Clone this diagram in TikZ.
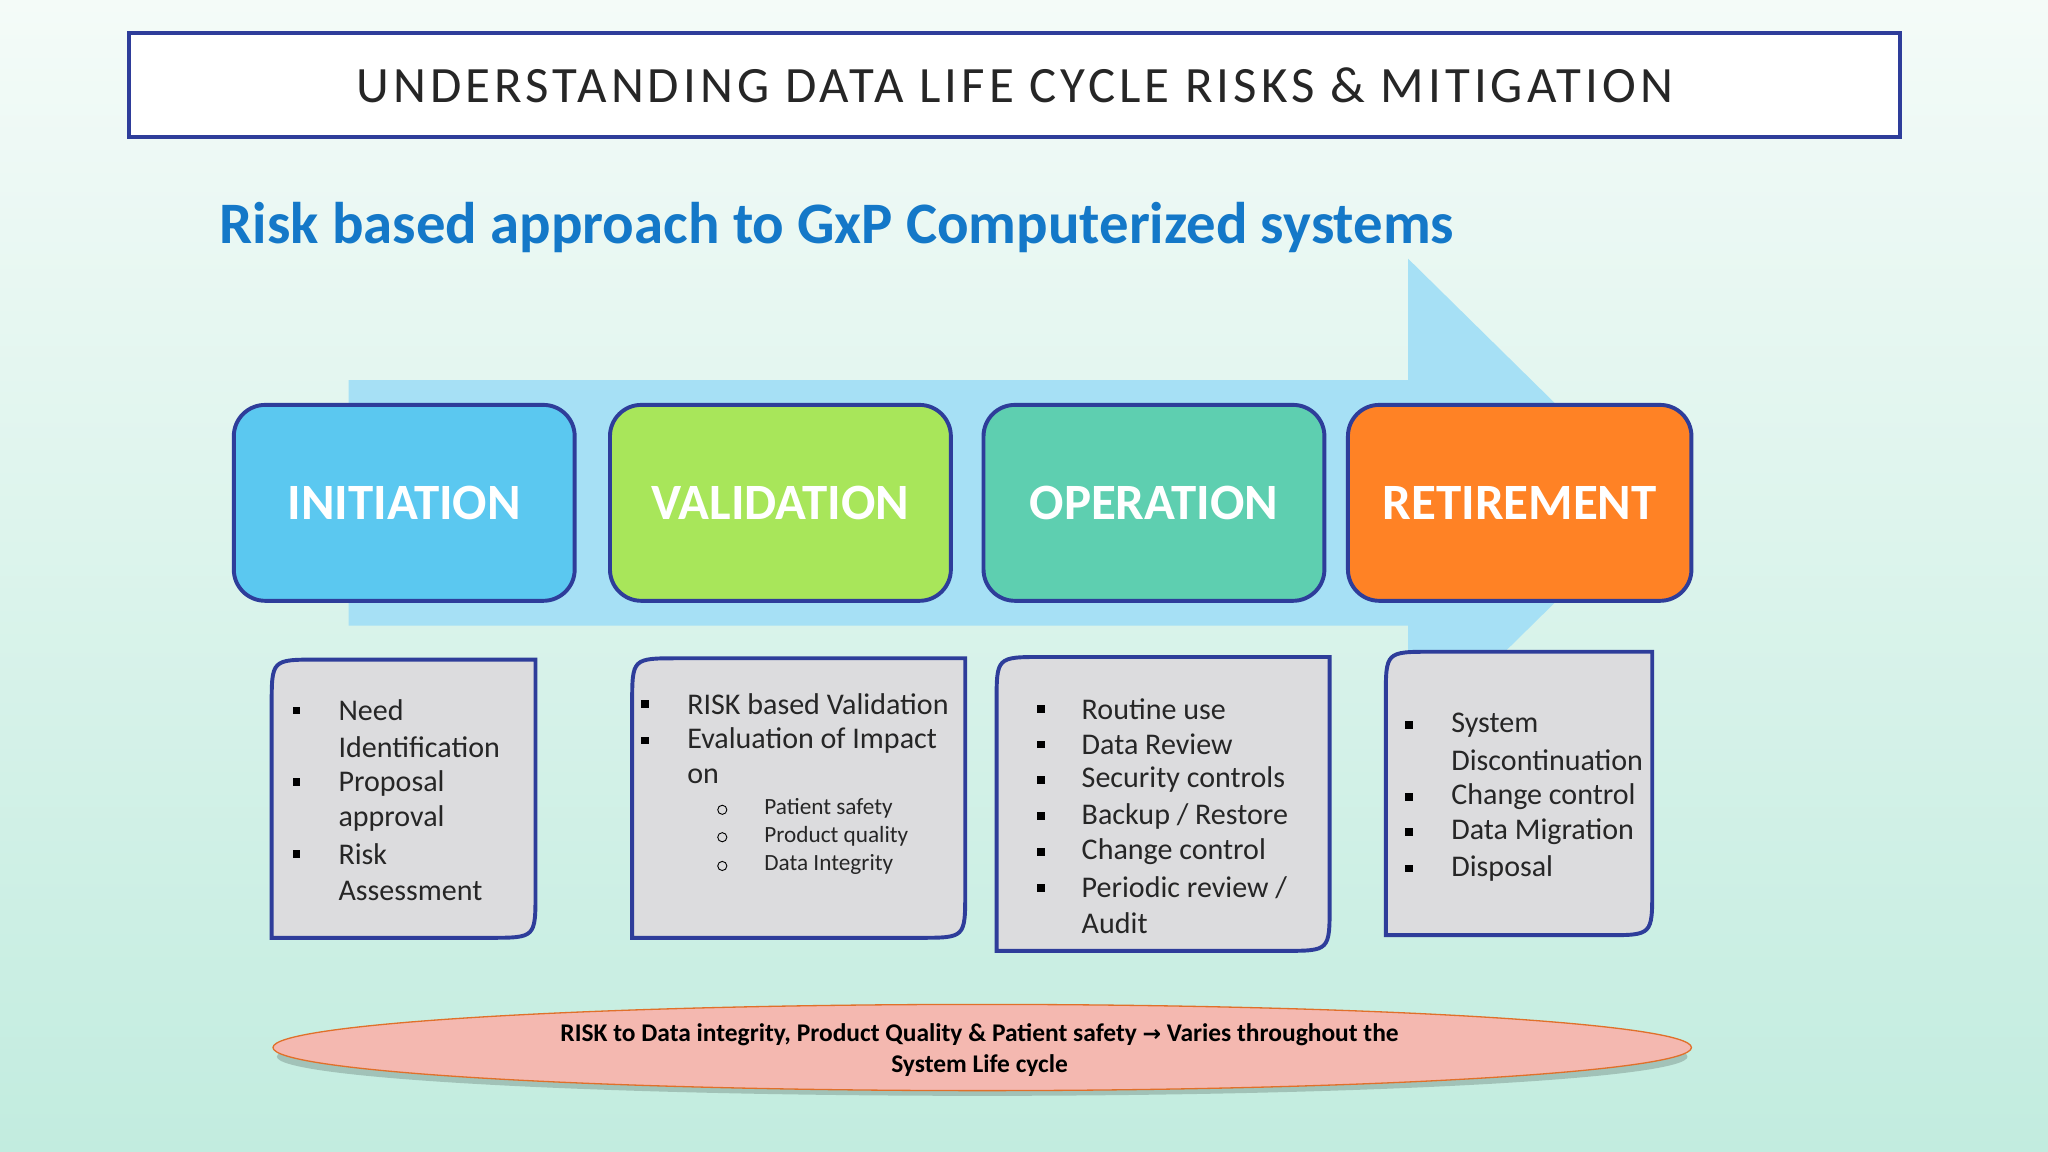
\documentclass[tikz,border=0pt]{standalone}
\usepackage{fontspec}
\setmainfont{Carlito}
\newfontfamily\titlefont[LetterSpace=8]{Carlito}
\newfontfamily\dv{DejaVu Sans}
\begin{document}
\begin{tikzpicture}[x=1pt,y=-1pt,
  stage/.style={draw=bdr,line width=3pt,rounded corners=24pt,text=white,font=\fontsize{39}{42}\selectfont\bfseries},
  detail/.style={draw=bdr,line width=3pt,fill=boxgray},
  txt/.style={anchor=west,inner sep=0pt,font=\fontsize{23}{26}\selectfont,text=black!85},
  stxt/.style={anchor=west,inner sep=0pt,font=\fontsize{17.8}{20}\selectfont,text=black!85},
  bul/.style={fill=black,minimum size=6pt,inner sep=0pt},
  cir/.style={draw=black,line width=0.7pt,circle,minimum size=7pt,inner sep=0pt}]
\definecolor{bdr}{HTML}{2E3D9A}
\definecolor{boxgray}{HTML}{DCDCDE}
\definecolor{arr}{HTML}{A6E0F5}
\definecolor{bgtop}{HTML}{F4FBF8}
\definecolor{bgmid}{HTML}{D2F0EA}
\definecolor{bgbot}{HTML}{C2ECDF}
\useasboundingbox (0,0) rectangle (1568,882);
\shade[top color=bgtop, middle color=bgmid, bottom color=bgbot] (0,0) rectangle (1568,882);
% title
\node[draw=bdr,line width=3pt,fill=white,minimum width=1356pt,minimum height=80pt,font=\titlefont\fontsize{39}{42}\selectfont,text=black!85] (title) at (777,65) {UNDERSTANDING DATA LIFE CYCLE RISKS \& MITIGATION};
\node[anchor=west,inner sep=0pt,text={rgb,255:red,20;green,120;blue,200},font=\fontsize{45}{48}\selectfont\bfseries] (sub) at (168,174) {Risk based approach to GxP Computerized systems};
% arrow
\fill[arr] (267,291) -- (1078,291) -- (1078,198) -- (1268,385) -- (1078,572) -- (1078,479) -- (267,479) -- cycle;
% stages
\node[stage,fill={rgb,255:red,91;green,200;blue,240},minimum width=261pt,minimum height=150pt] (s1) at (309.5,385) {INITIATION};
\node[stage,fill={rgb,255:red,168;green,230;blue,90},minimum width=261pt,minimum height=150pt] (s2) at (597.5,385) {VALIDATION};
\node[stage,fill={rgb,255:red,94;green,207;blue,176},minimum width=261pt,minimum height=150pt] (s3) at (883.5,385) {OPERATION};
\node[stage,fill={rgb,255:red,255;green,130;blue,37},minimum width=263pt,minimum height=150pt] (s4) at (1163.5,385) {RETIREMENT};
% detail boxes
\newcommand{\dbox}[4]{\draw[detail] (#1,#4) -- (#1,#2+35) .. controls (#1,#2) .. (#1+35,#2) -- (#3,#2) -- (#3,#4-35) .. controls (#3,#4) .. (#3-35,#4) -- cycle;}
\dbox{208}{505}{410}{718}
\dbox{484}{504}{739}{718}
\dbox{763}{503}{1018}{728}
\dbox{1061}{499}{1265}{716}
% box1
\foreach \y in {544,599,654} \node[bul] at (227,\y) {};
\node[txt] (a1) at (259,544) {Need};
\node[txt] (a2) at (259,572) {Identification};
\node[txt] (a3) at (259,600) {Proposal};
\node[txt] (a4) at (259,627) {approval};
\node[txt] (a5) at (259,654) {Risk};
\node[txt] (a6) at (259,682) {Assessment};
% box2
\foreach \y in {539,567} \node[bul] at (494,\y) {};
\node[txt] (b1) at (526,539) {RISK based Validation};
\node[txt] (b2) at (526,567) {Evaluation of Impact};
\node[txt] (b3) at (526,594) {on};
\foreach \y in {620,641,663} \node[cir] at (553,\y) {};
\node[stxt] (b4) at (585,619) {Patient safety};
\node[stxt] (b5) at (585,640) {Product quality};
\node[stxt] (b6) at (585,662) {Data Integrity};
% box3
\foreach \y in {543,570,597,625,652,680} \node[bul] at (797,\y) {};
\node[txt] (c1) at (828,543) {Routine use};
\node[txt] (c2) at (828,570) {Data Review};
\node[txt] (c3) at (828,597) {Security controls};
\node[txt] (c4) at (828,625) {Backup / Restore};
\node[txt] (c5) at (828,652) {Change control};
\node[txt] (c6) at (828,680) {Periodic review /};
\node[txt] (c7) at (828,707) {Audit};
% box4
\foreach \y in {555,610,637,665} \node[bul] at (1079,\y) {};
\node[txt] (d1) at (1111,555) {System};
\node[txt] (d2) at (1111,582) {Discontinuation};
\node[txt] (d3) at (1111,610) {Change control};
\node[txt] (d4) at (1111,637) {Data Migration};
\node[txt] (d5) at (1111,665) {Disposal};
% ellipse
\fill[black,opacity=0.18] (752,809) ellipse [x radius=540pt, y radius=30pt];
\draw[fill={rgb,255:red,244;green,184;blue,176},draw={rgb,255:red,224;green,112;blue,42},line width=1pt] (752,802) ellipse [x radius=543pt, y radius=33pt];
\node[align=center,font=\fontsize{19.5}{24}\selectfont\bfseries,text=black] (e) at (750,804) {RISK to Data integrity, Product Quality \& Patient safety {\dv\bfseries\fontsize{17}{24}\selectfont →} Varies throughout the\\System Life cycle};
\end{tikzpicture}
\end{document}
